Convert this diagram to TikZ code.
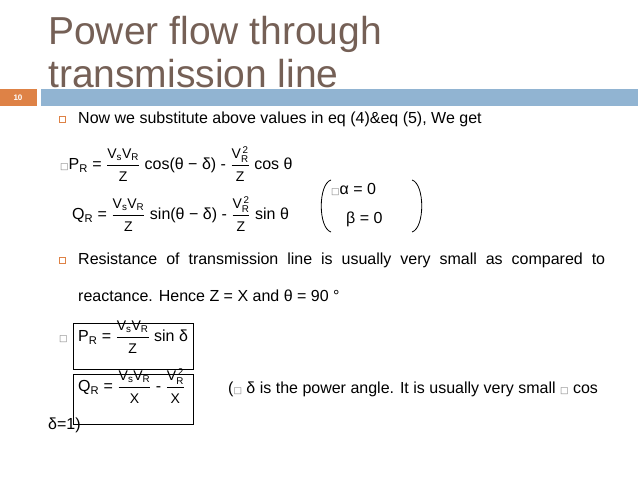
\documentclass[tikz,border=0pt]{standalone}
\usepackage{amsmath}
\usepackage{fontspec}
\setmainfont{Liberation Sans}
\newfontfamily\djvfont{DejaVu Sans}
\definecolor{titlec}{RGB}{117,96,86}
\definecolor{barblue}{RGB}{145,180,210}
\definecolor{numorange}{RGB}{222,130,70}
\newcommand{\fr}[2]{$\genfrac{}{}{0.5pt}{0}{\text{\fontsize{14}{14}\selectfont #1}}{\text{\fontsize{14}{14}\selectfont #2}}$}
\newcommand{\miss}{{\djvfont\fontsize{9}{9}\selectfont\color{gray}□}}
\tikzset{txt/.style={anchor=base west,inner sep=0pt,font=\fontsize{16}{18}\selectfont},
bul/.style={draw=numorange,line width=0.5pt,minimum size=6pt,inner sep=0pt},
bx/.style={draw,line width=0.8pt}}
\begin{document}
\begin{tikzpicture}[x=1pt,y=-1pt]
\useasboundingbox (0,0) rectangle (638,478);
\node[anchor=base west,inner sep=0pt,text=titlec,font=\fontsize{39}{40}\selectfont] (t1) at (48,45) {Power flow through};
\node[anchor=base west,inner sep=0pt,text=titlec,font=\fontsize{39}{40}\selectfont] (t2) at (48,88) {transmission line};
\fill[numorange] (0,89) rectangle (37,106);
\node[text=white,font=\bfseries\fontsize{8}{8}\selectfont] (num) at (18,97.5) {10};
\fill[barblue] (41,89) rectangle (638,106);
\node[bul] (b1) at (62,119) {};
\node[txt] (l1) at (78,124) {Now we substitute above values in eq (4)\&eq (5), We get};
\node[txt] (pr) at (60,170) {\miss P$_{\text{R}}$ = \fr{V$_{\text{s}}$V$_{\text{R}}$}{Z} cos(θ − δ) - \fr{V$_{\text{R}}^{\,\text{2}}$}{Z} cos θ};
\node[txt] (qr) at (72,220) {Q$_{\text{R}}$ = \fr{V$_{\text{s}}$V$_{\text{R}}$}{Z} sin(θ − δ) - \fr{V$_{\text{R}}^{\,\text{2}}$}{Z} sin θ};
\node[txt] (al) at (331,195) {\miss α = 0};
\node[txt] (be) at (346,224) {β = 0};
\draw[line width=0.8pt] (331,180) .. controls (318,184) and (318,228) .. (331,232);
\draw[line width=0.8pt] (412,180) .. controls (425,184) and (425,228) .. (412,232);
\node[bul] (b2) at (62,260) {};
\node[txt] (l2) at (78,265) {\makebox[527pt][s]{Resistance of transmission line is usually very small as compared to}};
\node[txt] (l3) at (78,302) {reactance. Hence Z = X and θ = 90 °};
\node[txt] (sq) at (59,342) {\miss};
\draw[bx] (73,323) rectangle (193,369);
\node[txt] (p2) at (78,342) {P$_{\text{R}}$ = \fr{V$_{\text{s}}$V$_{\text{R}}$}{Z} sin δ};
\draw[bx] (73,374) rectangle (193,424);
\node[txt] (q2) at (78,392) {Q$_{\text{R}}$ = \fr{V$_{\text{s}}$V$_{\text{R}}$}{X} - \fr{V$_{\text{R}}^{\,\text{2}}$}{X}};
\node[txt] (note) at (228,394) {(\miss\ δ is the power angle. It is usually very small \miss\ cos};
\node[txt] (d1) at (48,430) {δ=1)};
\end{tikzpicture}
\end{document}
